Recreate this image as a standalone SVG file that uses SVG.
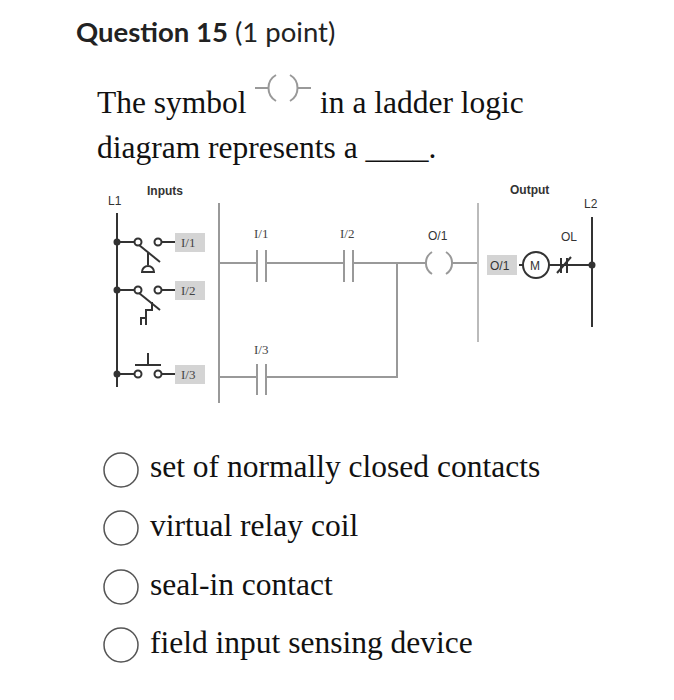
<svg xmlns="http://www.w3.org/2000/svg" width="674" height="700" viewBox="0 0 674 700">
<style>
.w{stroke:#333;stroke-width:2;fill:none}
.g{stroke:#999;stroke-width:2;fill:none}
.s{font-family:"Liberation Serif",serif;fill:#111}
.d{font-family:"Liberation Sans",sans-serif;fill:#333;font-size:12px}
.ds{font-family:"Liberation Serif",serif;fill:#444;font-size:13px}
.box{fill:#d4d4d4}
</style>
<rect width="674" height="700" fill="#fff"/>
<text x="76" y="42" font-family="Lato,sans-serif" font-size="27.5" fill="#222"><tspan font-weight="bold">Question 15</tspan> (1 point)</text>
<text x="97" y="113" class="s" font-size="31.5">The symbol</text>
<g id="coilsym" class="g" stroke="#666" stroke-width="2.5">
<line x1="255" y1="88" x2="269" y2="88"/><line x1="297" y1="88" x2="311" y2="88"/>
<path d="M276 75 A15 15 0 0 0 276 101 M290 75 A15 15 0 0 1 290 101"/>
</g>
<text x="320" y="113" class="s" font-size="31.5">in a ladder logic</text>
<text x="97" y="158" class="s" font-size="31.5">diagram represents a ____.</text>
<g id="diagram">
<text x="147" y="195" class="d" font-weight="bold">Inputs</text>
<text x="108" y="205" class="d">L1</text>
<text x="510" y="194" class="d" font-weight="bold">Output</text>
<text x="584" y="208" class="d">L2</text>
<g id="inputs" class="w">
<line x1="117" y1="213" x2="117" y2="387"/>
<circle cx="117" cy="242" r="2.5" fill="#333"/><circle cx="117" cy="290" r="2.5" fill="#333"/><circle cx="117" cy="374" r="2.5" fill="#333"/>
<line x1="117" y1="242" x2="134" y2="242"/><circle cx="138" cy="242" r="3.5" fill="#fff"/><line x1="139" y1="245" x2="160" y2="262"/><line x1="148" y1="253" x2="148" y2="265"/><path d="M142 272 A6 6 0 0 1 154 272 Z"/><circle cx="158" cy="242" r="3.5" fill="#fff"/><line x1="162" y1="242" x2="175" y2="242"/>
<line x1="117" y1="290" x2="134" y2="290"/><circle cx="138" cy="290" r="3.5" fill="#fff"/><line x1="139" y1="293" x2="160" y2="310"/><path d="M152 302 L152 310 L146 310 L146 318 L141 318 L141 325 M146 318 L146 325"/><circle cx="158" cy="290" r="3.5" fill="#fff"/><line x1="162" y1="290" x2="175" y2="290"/>
<line x1="117" y1="374" x2="134" y2="374"/><circle cx="138" cy="374" r="3.5" fill="#fff"/><line x1="135" y1="365" x2="161" y2="365"/><line x1="148" y1="353" x2="148" y2="365"/><circle cx="158" cy="374" r="3.5" fill="#fff"/><line x1="162" y1="374" x2="175" y2="374"/>
</g>
<rect x="175" y="233" width="30" height="19" class="box"/><text x="181" y="247" class="ds">I/1</text>
<rect x="175" y="281" width="30" height="19" class="box"/><text x="181" y="295" class="ds">I/2</text>
<rect x="175" y="365" width="30" height="19" class="box"/><text x="181" y="379" class="ds">I/3</text>
<g id="ladder" class="g">
<line x1="219" y1="203" x2="219" y2="403"/>
<path d="M219 263 H257 M257 250 V282 M266 250 V282 M266 263 H344 M344 250 V282 M353 250 V282 M353 263 H426 M452 263 H478"/>
<path d="M397 263 V377 H266 M266 364 V395 M257 364 V395 M257 377 H219"/>
<path d="M432 252 A13 13 0 0 0 432 274 M446 252 A13 13 0 0 1 446 274"/>
<line x1="478" y1="203" x2="478" y2="342" stroke="#bbb"/>
</g>
<text x="254" y="238" class="ds">I/1</text><text x="340" y="238" class="ds">I/2</text><text x="254" y="354" class="ds">I/3</text>
<text x="428" y="240" class="d">O/1</text>
<rect x="487" y="255" width="30" height="20" class="box"/><text x="490" y="270" class="d" fill="#555">O/1</text>
<g id="output" class="w">
<line x1="519" y1="265" x2="523" y2="265"/>
<circle cx="536" cy="265" r="13"/>
<line x1="549" y1="265" x2="592" y2="265"/>
<line x1="561" y1="258" x2="561" y2="273"/><line x1="567" y1="258" x2="567" y2="273"/><line x1="557" y1="273" x2="571" y2="257"/>
<line x1="592" y1="217" x2="592" y2="327"/><circle cx="592" cy="265" r="2.5" fill="#333"/>
</g>
<text x="530" y="270" class="d" font-size="11">M</text>
<text x="561" y="241" class="d">OL</text>
</g>
<g id="options" font-family="Liberation Serif,serif" font-size="31.5" fill="#111">
<g stroke="#555" stroke-width="1.5" fill="#fff"><circle cx="121" cy="470" r="17"/><circle cx="121" cy="528" r="17"/><circle cx="121" cy="587" r="17"/><circle cx="121" cy="645" r="17"/></g>
<text x="150" y="477">set of normally closed contacts</text>
<text x="150" y="536">virtual relay coil</text>
<text x="150" y="595">seal-in contact</text>
<text x="150" y="653">field input sensing device</text>
</g>
</svg>
